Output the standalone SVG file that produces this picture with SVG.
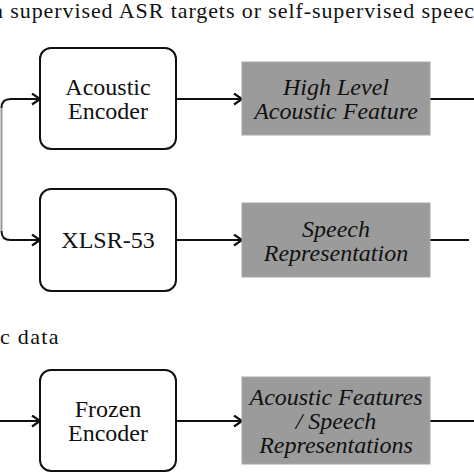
<svg xmlns="http://www.w3.org/2000/svg" width="474" height="474" viewBox="0 0 474 474">
<style>
.cap{font-family:'Liberation Serif','DejaVu Serif',serif;font-size:22px;fill:#111}
.box{fill:#fff;stroke:#111;stroke-width:2}
.feat{fill:#9b9b9b;stroke:#a8a8a8;stroke-width:1}
.t{font-family:'Liberation Serif','DejaVu Serif',serif;font-size:24px;fill:#111;text-anchor:middle}
.ti{font-family:'Liberation Serif','DejaVu Serif',serif;font-size:24px;font-style:italic;fill:#111;text-anchor:middle}
.ln{fill:none;stroke:#111;stroke-width:2}
.ar{marker-end:url(#arr)}
.bus{fill:none;stroke:#999;stroke-width:2}
</style>
<defs>
<marker id="arr" markerUnits="userSpaceOnUse" markerWidth="12" markerHeight="14" refX="10" refY="6" orient="auto">
<path d="M2,0.5 L10,6 L2,11.5" fill="none" stroke="#111" stroke-width="2.2"/>
</marker>
</defs>
<text class="cap" x="-8" y="18" textLength="494" lengthAdjust="spacing">n supervised ASR targets or self-supervised speech</text>
<text class="cap" x="0" y="344" letter-spacing="1.3">c data</text>
<g id="connectors">
<path class="bus" d="M1.5,170 V108"/>
<path class="bus" d="M1.5,170 V231"/>
<path class="ln ar" d="M1.5,108 Q1.5,99 10.5,99 H40"/>
<path class="ln ar" d="M1.5,231 Q1.5,240 10.5,240 H40"/>
<path class="ln ar" d="M176,99 H242"/>
<path class="ln ar" d="M176,240 H242"/>
<path class="ln ar" d="M176,421 H242"/>
<path class="ln ar" d="M0,421 H40"/>
<path class="ln" d="M430,99 H474"/>
<path class="ln" d="M430,240 H469"/>
<path class="ln" d="M430,421 H474"/>
</g>
<g id="acoustic-encoder">
<rect class="box" x="40" y="48" width="136" height="101" rx="11"/>
<text class="t" x="108" y="95">Acoustic</text>
<text class="t" x="108" y="119">Encoder</text>
</g>
<g id="high-level-feature">
<rect class="feat" x="242" y="62" width="188" height="73"/>
<text class="ti" x="336" y="95">High Level</text>
<text class="ti" x="336" y="119">Acoustic Feature</text>
</g>
<g id="xlsr-53">
<rect class="box" x="40" y="189" width="136" height="102" rx="11"/>
<text class="t" x="108" y="248">XLSR-53</text>
</g>
<g id="speech-representation">
<rect class="feat" x="242" y="203" width="188" height="74"/>
<text class="ti" x="336" y="237">Speech</text>
<text class="ti" x="336" y="261">Representation</text>
</g>
<g id="frozen-encoder">
<rect class="box" x="40" y="370" width="136" height="101" rx="11"/>
<text class="t" x="108" y="417">Frozen</text>
<text class="t" x="108" y="441">Encoder</text>
</g>
<g id="features-representations">
<rect class="feat" x="242" y="377" width="188" height="87"/>
<text class="ti" x="336" y="405">Acoustic Features</text>
<text class="ti" x="336" y="429">/ Speech</text>
<text class="ti" x="336" y="453">Representations</text>
</g>
</svg>
